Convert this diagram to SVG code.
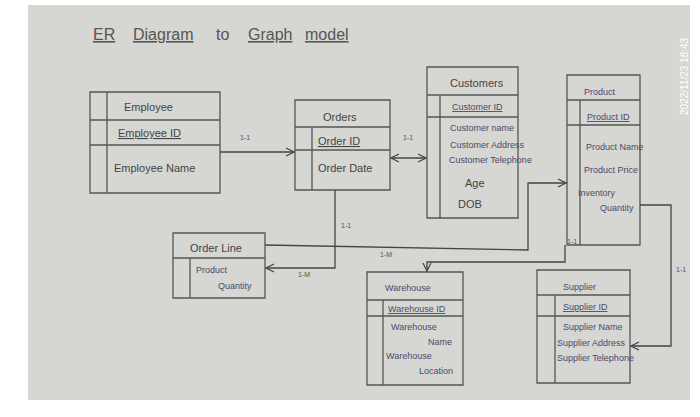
<svg xmlns="http://www.w3.org/2000/svg" width="700" height="417" viewBox="0 0 700 417">
<style>
.b{fill:none;stroke:#555;stroke-width:1.3}
.c{fill:none;stroke:#444;stroke-width:1.3}
.t{font-family:"Liberation Sans",sans-serif;font-size:11px;fill:#444}
.a{font-family:"Liberation Sans",sans-serif;font-size:9px;fill:#4a4a6a}
.h{font-family:"Liberation Sans",sans-serif;font-size:16px;fill:#555}
.l{font-family:"Liberation Sans",sans-serif;font-size:7px;fill:#555}
</style>
<defs><marker id="m" markerWidth="10" markerHeight="10" refX="9" refY="5" orient="auto-start-reverse" markerUnits="userSpaceOnUse"><path d="M1,1 L9,5 L1,9" fill="none" stroke="#444" stroke-width="1.2"/></marker></defs>
<rect width="700" height="417" fill="#fff"/>
<rect x="28" y="5" width="662" height="395" fill="#d6d6d3"/>
<g id="title"><text class="h" x="93" y="40"><tspan text-decoration="underline">ER</tspan> <tspan x="133" text-decoration="underline">Diagram</tspan><tspan x="216">to</tspan><tspan x="248" text-decoration="underline">Graph</tspan><tspan x="305" text-decoration="underline">model</tspan></text></g>
<text x="688" y="115" transform="rotate(-90 688 115)" font-family="Liberation Sans,sans-serif" font-size="10" fill="#fff">2022/11/23 18:43</text>
<g id="employee"><path class="b" d="M90,92h130v101h-130zM90,120h130M90,145h130M107,92v101"/>
<text class="t" x="124" y="111">Employee</text><text class="t" x="118" y="137" text-decoration="underline">Employee ID</text><text class="t" x="114" y="172">Employee Name</text></g>
<g id="orders"><path class="b" d="M295,100h95v90h-95zM295,127h95M295,150h95M312,127v63"/>
<text class="t" x="323" y="121">Orders</text><text class="t" x="318" y="145" text-decoration="underline">Order ID</text><text class="t" x="318" y="172">Order Date</text></g>
<g id="customers"><path class="b" d="M427,67h91v151h-91zM427,95h91M427,117h91M440,95v123"/>
<text class="t" x="450" y="87">Customers</text><text class="a" x="452" y="110" text-decoration="underline">Customer ID</text>
<text class="a" x="450" y="131">Customer name</text><text class="a" x="450" y="148" font-size="8.5">Customer Address</text><text class="a" x="449" y="163" font-size="8">Customer Telephone</text>
<text class="t" x="465" y="187">Age</text><text class="t" x="458" y="208">DOB</text></g>
<g id="product"><path class="b" d="M567,75h73v170h-73zM567,100h73M567,125h73M580,100v145"/>
<text class="a" x="584" y="95">Product</text><text class="a" x="587" y="120" text-decoration="underline">Product ID</text>
<text class="a" x="586" y="150" font-size="7.5">Product Name</text><text class="a" x="584" y="173" font-size="7.5">Product Price</text>
<text class="a" x="578" y="196" font-size="8">Inventory</text><text class="a" x="600" y="211" font-size="8">Quantity</text></g>
<g id="orderline"><path class="b" d="M173,233h92v65h-92zM173,258h92M190,258v40"/>
<text class="t" x="190" y="252">Order Line</text><text class="a" x="196" y="273">Product</text><text class="a" x="218" y="289">Quantity</text></g>
<g id="warehouse"><path class="b" d="M367,272h96v113h-96zM367,300h96M367,316h96M383,300v85"/>
<text class="a" x="385" y="291">Warehouse</text><text class="a" x="388" y="312" text-decoration="underline">Warehouse ID</text>
<text class="a" x="391" y="330">Warehouse</text><text class="a" x="428" y="345">Name</text>
<text class="a" x="386" y="359">Warehouse</text><text class="a" x="419" y="374">Location</text></g>
<g id="supplier"><path class="b" d="M537,270h93v113h-93zM537,295h93M537,316h93M555,295v88"/>
<text class="a" x="563" y="290">Supplier</text><text class="a" x="563" y="310" text-decoration="underline">Supplier ID</text>
<text class="a" x="563" y="330" font-size="8">Supplier Name</text><text class="a" x="557" y="346" font-size="8">Supplier Address</text><text class="a" x="557" y="361" font-size="7">Supplier Telephone</text></g>
<g id="connectors">
<path class="c" d="M220,152H294" marker-end="url(#m)"/><text class="l" x="240" y="140">1-1</text>
<path class="c" d="M391,158H426" marker-start="url(#m)" marker-end="url(#m)"/><text class="l" x="403" y="140">1-1</text>
<path class="c" d="M335,190V268H266" marker-end="url(#m)"/><text class="l" x="341" y="228">1-1</text><text class="l" x="298" y="277">1-M</text>
<path class="c" d="M265,245L528,250V183H566" marker-end="url(#m)"/><text class="l" x="380" y="257">1-M</text>
<path class="c" d="M565,245V262H427V271" marker-end="url(#m)"/><text class="l" x="567" y="244">1-1</text>
<path class="c" d="M640,205H671V346H631" marker-end="url(#m)"/><text class="l" x="676" y="272">1-1</text>
</g>
</svg>
